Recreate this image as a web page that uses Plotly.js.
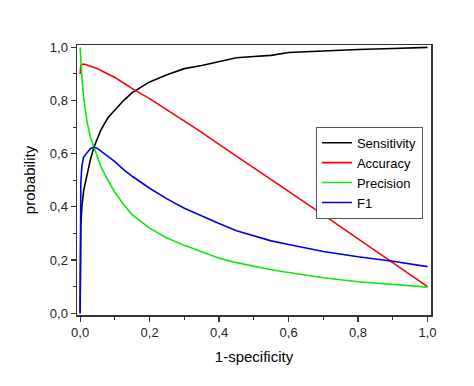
<!DOCTYPE html>
<html>
<head>
<meta charset="utf-8">
<script src="https://cdn.plot.ly/plotly-3.0.1.min.js"></script>
<style>html,body{margin:0;padding:0;background:#fff;}#chart{width:474px;height:386px;}</style>
</head>
<body>
<div id="chart"></div>
<script>
const fpr = [0, 0.002, 0.005, 0.01, 0.02, 0.03, 0.04, 0.05, 0.06, 0.08, 0.1, 0.125, 0.15, 0.2, 0.25, 0.3, 0.35, 0.4, 0.45, 0.5, 0.55, 0.6, 0.7, 0.8, 0.9, 1.0];
const sensitivity = [0, 0.33, 0.40, 0.46, 0.52, 0.58, 0.625, 0.66, 0.69, 0.735, 0.765, 0.80, 0.83, 0.87, 0.897, 0.92, 0.932, 0.947, 0.961, 0.966, 0.97, 0.981, 0.987, 0.992, 0.996, 1.0];
const accuracy = [0.90, 0.932, 0.935, 0.937, 0.934, 0.93, 0.925, 0.92, 0.913, 0.90, 0.887, 0.866, 0.845, 0.807, 0.765, 0.722, 0.68, 0.635, 0.59, 0.547, 0.502, 0.458, 0.37, 0.28, 0.19, 0.10];
const precision = [1.0, 0.95, 0.89, 0.81, 0.72, 0.66, 0.625, 0.585, 0.55, 0.50, 0.455, 0.41, 0.37, 0.32, 0.283, 0.255, 0.23, 0.207, 0.19, 0.177, 0.163, 0.153, 0.133, 0.118, 0.107, 0.098];
const f1 = [0, 0.49, 0.552, 0.587, 0.604, 0.62, 0.625, 0.62, 0.61, 0.59, 0.57, 0.54, 0.515, 0.47, 0.43, 0.395, 0.365, 0.337, 0.31, 0.29, 0.272, 0.258, 0.232, 0.212, 0.195, 0.175];
const seriesNames = ['Sensitivity', 'Accuracy', 'Precision', 'F1'];
const seriesColors = ['#000000', '#ff0000', '#11e611', '#0000ee'];
const seriesValues = [sensitivity, accuracy, precision, f1];

const traces = seriesValues.map((vals, i) => ({
  x: fpr, y: vals, type: 'scatter', mode: 'lines', name: seriesNames[i],
  line: {color: seriesColors[i], width: 1.6}
}));

const axisCommon = {
  showline: true, linecolor: '#333', linewidth: 1.5, mirror: true,
  ticks: 'outside', ticklen: 5, tickwidth: 1.2, tickcolor: '#333',
  showgrid: false, zeroline: false, tickformat: '.1f', dtick: 0.2, tick0: 0,
  minor: {ticks: 'outside', ticklen: 3, tickwidth: 1, tickcolor: '#333', dtick: 0.1},
  tickfont: {family: 'Liberation Sans, Arial, sans-serif', size: 13, color: '#222'}
};

const layout = {
  width: 474, height: 386,
  margin: {l: 77, r: 43, t: 45, b: 71},
  paper_bgcolor: '#fff', plot_bgcolor: '#fff',
  separators: ',.',
  showlegend: true,
  legend: {
    x: 0.675, y: 0.697, xanchor: 'left', yanchor: 'top',
    bgcolor: '#fff', bordercolor: '#555', borderwidth: 1,
    font: {family: 'Liberation Sans, Arial, sans-serif', size: 13, color: '#000'},
    tracegroupgap: 0
  },
  xaxis: Object.assign({}, axisCommon, {
    range: [-0.009, 1.01],
    title: {text: '1-specificity', font: {family: 'Liberation Sans, Arial, sans-serif', size: 15, color: '#000'}, standoff: 12}
  }),
  yaxis: Object.assign({}, axisCommon, {
    range: [-0.007, 1.009],
    title: {text: 'probability', font: {family: 'Liberation Sans, Arial, sans-serif', size: 15, color: '#000'}, standoff: 10}
  })
};

Plotly.newPlot('chart', traces, layout, {displayModeBar: false, staticPlot: true});
</script>
</body>
</html>
